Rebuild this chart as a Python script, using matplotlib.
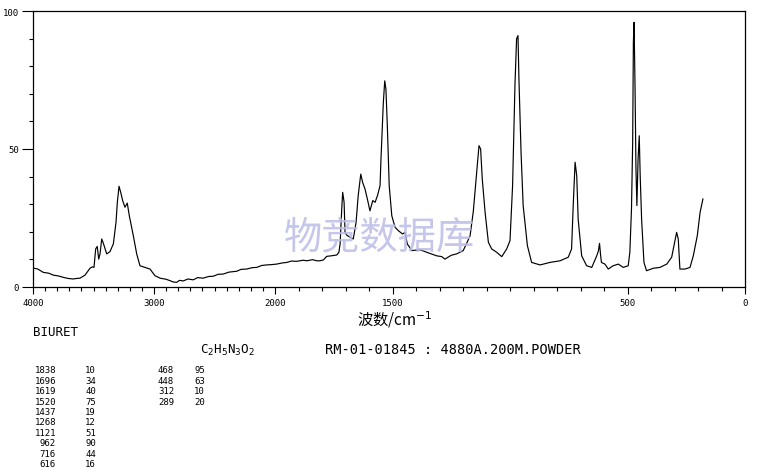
import numpy as np
import matplotlib.pyplot as plt

# Raman spectrum of biuret
wavenumber = [4000, 3960, 3915, 3870, 3832, 3790, 3750, 3710, 3667, 3640, 3612, 3570, 3529, 3510,
              3496, 3482, 3469, 3457, 3446, 3432, 3419, 3391, 3364, 3336, 3314, 3303, 3289, 3275,
              3259, 3240, 3221, 3204, 3171, 3143, 3116, 3074, 3033, 2992, 2964, 2950, 2900, 2868,
              2840, 2812, 2790, 2758, 2720, 2675, 2640, 2593, 2550, 2510, 2470, 2427, 2380, 2317,
              2280, 2234, 2190, 2151, 2110, 2069, 2030, 1993, 1970, 1950, 1930, 1908, 1880, 1865,
              1840, 1823, 1809, 1794, 1780, 1760, 1737, 1728, 1723, 1716, 1712, 1706, 1702, 1695,
              1680, 1667, 1655, 1646, 1635, 1627, 1617, 1607, 1596, 1584, 1574, 1564, 1553, 1549,
              1539, 1533, 1528, 1522, 1514, 1503, 1489, 1475, 1457, 1447, 1437, 1418, 1383, 1355,
              1312, 1290, 1277, 1250, 1227, 1199, 1170, 1156, 1142, 1132, 1125, 1118, 1106, 1092,
              1078, 1057, 1035, 1014, 1000, 989, 979, 972, 966, 962, 953, 944, 926, 908, 872, 830,
              787, 752, 738, 731, 723, 716, 710, 695, 674, 652, 631, 624, 619, 615, 611, 596, 582,
              561, 539, 518, 497, 490, 483, 478, 475, 472, 468, 464, 460, 455, 450, 446, 440, 430,
              419, 390, 362, 333, 312, 302, 291, 284, 277, 255, 234, 220, 203, 191, 179]
intensity = [6.9, 6.5, 5.3, 5.0, 4.3, 4.0, 3.5, 3.1, 2.9, 3.1, 3.2, 4.3, 6.8, 7.3,
             7.1, 13.8, 14.7, 10.1, 12.0, 17.4, 15.9, 12.0, 12.8, 15.6, 23.4, 30.7, 36.5, 34.3,
             31.3, 28.9, 30.4, 25.8, 18.6, 12.0, 7.7, 7.1, 6.5, 4.1, 3.5, 3.2, 2.8, 2.3,
             1.8, 1.7, 2.4, 2.2, 2.9, 2.6, 3.4, 3.2, 3.8, 3.9, 4.6, 4.7, 5.4, 5.7,
             6.4, 6.5, 7.0, 7.1, 7.8, 8.0, 8.1, 8.3, 8.7, 8.9, 9.4, 9.3, 9.7, 9.5,
             9.9, 9.5, 9.5, 9.8, 11.1, 11.3, 11.6, 12.6, 15.6, 28.3, 34.3, 30.7, 19.8, 18.8,
             18.0, 17.4, 23.4, 33.1, 40.9, 37.9, 35.5, 31.9, 27.6, 31.3, 30.7, 33.1, 36.7, 46.4,
             66.9, 74.7, 71.7, 58.4, 36.7, 25.8, 21.6, 20.4, 19.2, 19.8, 15.6, 13.2, 13.5, 12.6,
             11.3, 11.0, 10.1, 11.5, 12.0, 13.2, 18.5, 27.5, 41.6, 51.2, 50.0, 39.1, 27.1, 16.2,
             13.8, 12.6, 11.0, 13.8, 16.8, 36.7, 72.9, 89.9, 91.1, 75.4, 48.8, 29.5, 15.0, 8.9, 8.0, 8.9,
             9.5, 10.8, 13.8, 29.5, 45.2, 40.3, 24.6, 11.3, 7.7, 7.1, 11.3, 13.0, 15.8, 12.0, 8.9, 8.3, 6.5,
             7.7, 8.3, 7.1, 7.7, 12.6, 28.3, 52.4, 88.7, 95.9, 72.9, 42.8, 29.5, 46.4, 54.8, 40.3, 24.6, 8.9,
             5.9, 6.8, 7.1, 8.3, 10.8, 15.0, 19.8, 17.4, 6.5, 6.5, 7.1, 11.3, 18.6, 27.1, 31.9]

x_ticks = [4000, 3000, 2000, 1500, 500, 0]
y_ticks = [0, 50, 100]

peak_pos_1 = ["1838", "1696", "1619", "1520", "1437", "1268", "1121", "962", "716", "616"]
peak_int_1 = ["10", "34", "40", "75", "19", "12", "51", "90", "44", "16"]
peak_pos_2 = ["468", "448", "312", "289"]
peak_int_2 = ["95", "63", "10", "20"]

# the x axis is stretched below 2000 cm-1
k = 242 / 470


def fwd(x):
    x = np.asarray(x, dtype=float)
    return np.where(x <= 2000, x, 2000 + (x - 2000) * k)


def inv(t):
    t = np.asarray(t, dtype=float)
    return np.where(t <= 2000, t, 2000 + (t - 2000) / k)


W, H = 761, 477
fig = plt.figure(figsize=(W / 100, H / 100), dpi=100)
ax = fig.add_axes([33 / W, 1 - 288 / H, 712 / W, 276 / H])

ax.set_xscale('function', functions=(fwd, inv))
ax.plot(wavenumber, intensity, color='black', lw=0.85, zorder=3)
ax.set_xlim(4000, 0)
ax.set_ylim(0, 100)

mono = 'DejaVu Sans Mono'
ax.set_xticks(x_ticks)
ax.set_xticklabels([str(t) for t in x_ticks], fontsize=6.5, family=mono)
ax.set_xticks(np.arange(0, 4001, 100), minor=True)
ax.set_yticks(y_ticks)
ax.set_yticklabels([str(t) for t in y_ticks], fontsize=6.5, family=mono)
ax.set_yticks(np.arange(0, 101, 10), minor=True)
ax.tick_params(axis='x', which='major', direction='out', length=5, width=0.8, pad=3)
ax.tick_params(axis='x', which='minor', direction='out', length=3, width=0.8)
ax.tick_params(axis='y', which='major', direction='out', length=8, width=0.8, pad=2)
ax.tick_params(axis='y', which='minor', direction='out', length=3, width=0.8)
for s in ax.spines.values():
    s.set_linewidth(0.9)

# watermark
fig.text(380 / W, 1 - 238 / H, '物竞数据库', family=['Noto Sans CJK SC'], fontsize=27.5,
         color='#bcbce8', alpha=0.85, ha='center', va='center', zorder=1)

fig.text(395 / W, 1 - 320 / H, '波数/cm$^{-1}$', family=['Noto Sans CJK SC', 'DejaVu Sans'],
         fontsize=11, ha='center', va='center')

fig.text(33 / W, 1 - 332 / H, 'BIURET', family=mono, fontsize=9, va='center')
fig.text(200 / W, 1 - 350 / H, r'C$_2$H$_5$N$_3$O$_2$', family=mono, fontsize=9, va='center')
fig.text(325 / W, 1 - 350 / H, 'RM-01-01845 : 4880A.200M.POWDER', family=mono, fontsize=9.8,
         va='center')

for i in range(len(peak_pos_1)):
    y = 1 - (371 + i * 10.4) / H
    fig.text(56 / W, y, peak_pos_1[i], family=mono, fontsize=6.5, ha='right', va='center')
    fig.text(96 / W, y, peak_int_1[i], family=mono, fontsize=6.5, ha='right', va='center')
for i in range(len(peak_pos_2)):
    y = 1 - (371 + i * 10.4) / H
    fig.text(174 / W, y, peak_pos_2[i], family=mono, fontsize=6.5, ha='right', va='center')
    fig.text(205 / W, y, peak_int_2[i], family=mono, fontsize=6.5, ha='right', va='center')

fig.savefig('out.png', dpi=100)
